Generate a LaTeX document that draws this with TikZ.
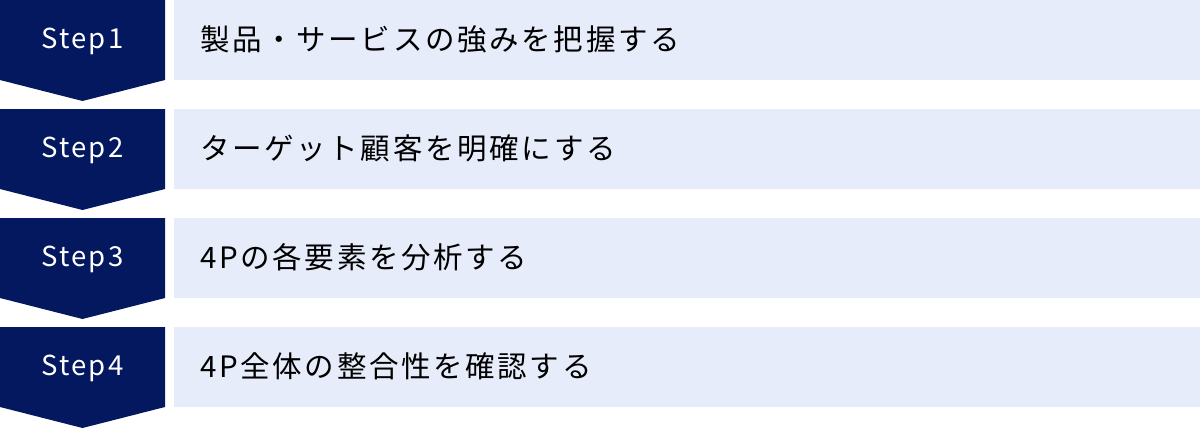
\documentclass[tikz,border=0pt]{standalone}
\usepackage{fontspec}
\newfontfamily\jp[LetterSpace=9]{Noto Sans CJK JP}
\newfontfamily\stepfont[LetterSpace=8]{Noto Sans CJK JP}
\definecolor{navy}{RGB}{4,24,96}
\definecolor{lav}{RGB}{230,236,250}
\begin{document}
\begin{tikzpicture}[x=1pt,y=-1pt,
  stepshape/.style={fill=navy},
  bar/.style={rectangle,fill=lav,inner sep=0pt,minimum width=1026pt,minimum height=80pt,anchor=north west},
  steplabel/.style={text=white,font=\stepfont\fontsize{27.5}{32}\selectfont,inner sep=0pt},
  barlabel/.style={text=black,font=\jp\fontsize{29.5}{34}\selectfont,inner sep=0pt,anchor=west}]
\useasboundingbox (0,0) rectangle (1200,429);
\foreach \i/\t in {0/製品・サービスの強みを把握する,1/ターゲット顧客を明確にする,2/4Pの各要素を分析する,3/4P全体の整合性を確認する}{
  \pgfmathsetmacro{\yo}{109*\i}
  \fill[stepshape] (0,\yo) -- (165,\yo) -- (165,\yo+80) -- (82.5,\yo+101) -- (0,\yo+80) -- cycle;
  \pgfmathtruncatemacro{\n}{\i+1}
  \node[steplabel] (s\n) at (82.5,\yo+41) {Step\n};
  \node[bar] (b\n) at (174,\yo) {};
  \node[barlabel] (t\n) at (200,\yo+39) {\t};
}
\end{tikzpicture}
\end{document}
